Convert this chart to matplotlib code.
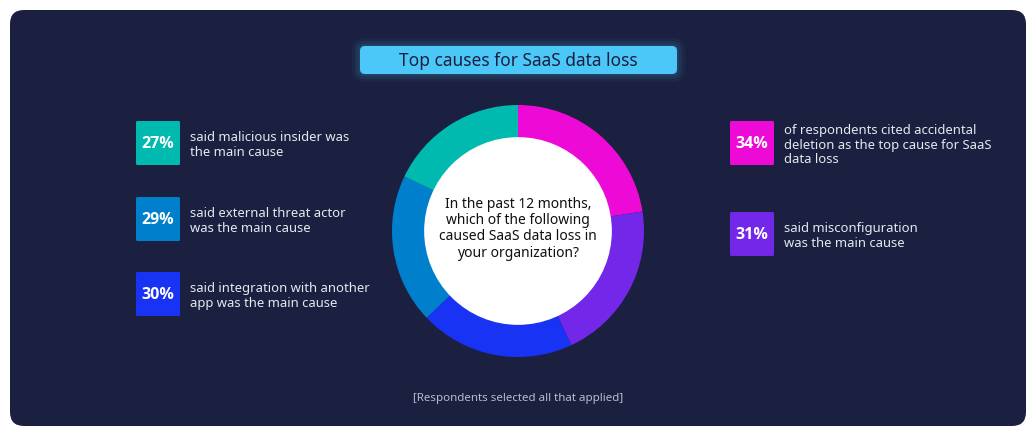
import matplotlib
matplotlib.use("Agg")
import matplotlib.pyplot as plt
from matplotlib.patches import FancyBboxPatch, Circle

# data
causes = ["accidental deletion", "misconfiguration", "integration with another app",
          "external threat actor", "malicious insider"]
shares = [34, 31, 30, 29, 27]
slice_colors = ["#ee0ad6", "#7327e8", "#1933f5", "#0080cc", "#00bab0"]
captions = [
    "of respondents cited accidental\ndeletion as the top cause for SaaS\ndata loss",
    "said misconfiguration\nwas the main cause",
    "said integration with another\napp was the main cause",
    "said external threat actor\nwas the main cause",
    "said malicious insider was\nthe main cause",
]
title = "Top causes for SaaS data loss"
question = "In the past 12 months,\nwhich of the following\ncaused SaaS data loss in\nyour organization?"
footnote = "[Respondents selected all that applied]"

W, H = 1036, 436
BG = "#1b2040"
FONT = ["Noto Sans", "DejaVu Sans"]
BOLD = ["Open Sans", "DejaVu Sans"]

fig = plt.figure(figsize=(W / 100, H / 100), dpi=100)
fig.patch.set_facecolor("white")
ax = fig.add_axes([0, 0, 1, 1])
ax.set_xlim(0, W)
ax.set_ylim(H, 0)
ax.axis("off")

# dark rounded panel
ax.add_patch(FancyBboxPatch((10, 10), 1016, 416, boxstyle="round,pad=0,rounding_size=14",
                            fc=BG, ec="none"))

# title badge with soft glow
for i, a in enumerate([0.05, 0.07, 0.09]):
    g = 8 - 3 * i
    ax.add_patch(FancyBboxPatch((360 - g, 46 - g), 317 + 2 * g, 28 + 2 * g,
                                boxstyle=f"round,pad=0,rounding_size={5 + g}",
                                fc="#4cc8f8", ec="none", alpha=a))
ax.add_patch(FancyBboxPatch((360, 46), 317, 28, boxstyle="round,pad=0,rounding_size=5",
                            fc="#4cc8f8", ec="none"))
ax.text(518.5, 61, title, ha="center", va="center", fontsize=12.5, color="#1b2040",
        family=FONT)

# percentage boxes + captions (layout: right column then left column)
box_pos = [(730, 121), (730, 212), (136, 272), (136, 197), (136, 121)]
for (bx, by), val, col, cap in zip(box_pos, shares, slice_colors, captions):
    ax.add_patch(FancyBboxPatch((bx, by), 44, 44, boxstyle="round,pad=0,rounding_size=1.5",
                                fc=col, ec="none"))
    ax.text(bx + 22, by + 22.5, f"{val}%", ha="center", va="center", fontsize=11.5,
            color="white", fontweight="bold", family=BOLD)
    ax.text(bx + 54, by + 24, cap, ha="left", va="center", fontsize=9.4,
            color="#e6e8ef", family=FONT, linespacing=1.12)

ax.text(518, 398, footnote, ha="center", va="center", fontsize=8.3, color="#b8bccb",
        family=FONT)

# donut
cx, cy, r = 518, 231, 126
pax = fig.add_axes([(cx - r) / W, (H - cy - r) / H, 2 * r / W, 2 * r / H])
pax.pie(shares, colors=slice_colors, startangle=90, counterclock=False, radius=1,
        wedgeprops=dict(width=0.26, linewidth=0))
pax.add_patch(Circle((0, 0), 0.745, fc="white", ec="none"))
pax.set_xlim(-1, 1)
pax.set_ylim(-1, 1)
pax.set_aspect("equal")
pax.axis("off")
pax.text(0, 0.018, question, ha="center", va="center", fontsize=10, color="#111111",
         family=FONT, fontweight="medium", linespacing=1.12)

fig.savefig("out.png", dpi=100, facecolor=fig.get_facecolor())
